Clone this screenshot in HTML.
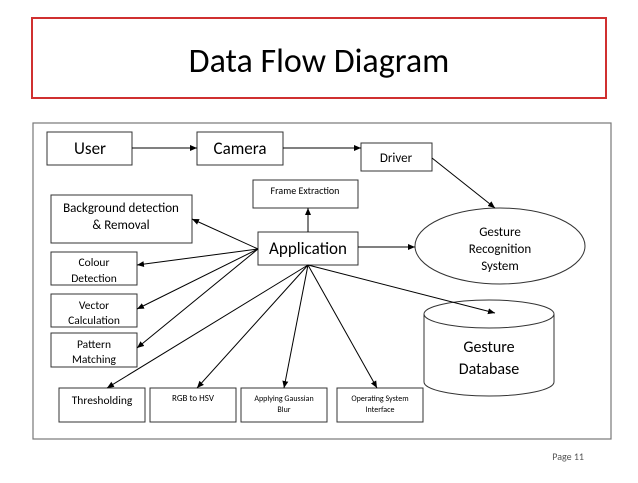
<!DOCTYPE html>
<html><head><style>
body{margin:0;width:638px;height:478px;background:#fff;overflow:hidden;font-family:"Liberation Sans",sans-serif}
</style></head><body>
<svg width="638" height="478" xmlns="http://www.w3.org/2000/svg" font-family="Carlito, 'Liberation Sans', sans-serif">
<defs><marker id="a" markerWidth="8" markerHeight="8" refX="7" refY="3" orient="auto" markerUnits="userSpaceOnUse"><path d="M0,0 L7,3 L0,6 z" fill="#000"/></marker></defs>
<rect x="32" y="18" width="574" height="80" fill="#fff" stroke="#d03030" stroke-width="2"/>
<text x="319" y="72" font-size="34" text-anchor="middle">Data Flow Diagram</text>
<rect x="33" y="123" width="578" height="316" fill="none" stroke="#777" stroke-width="1.2"/>
<g fill="#fff" stroke="#333" stroke-width="1">
<rect x="47" y="132" width="85" height="33"/>
<rect x="197" y="132" width="86" height="33"/>
<rect x="361" y="143" width="71" height="28"/>
<rect x="253" y="180" width="105" height="28"/>
<rect x="258" y="232" width="100" height="33"/>
<ellipse cx="500" cy="246" rx="85" ry="38"/>
<path d="M424,314 L424,382 A65,14 0 0 0 554,382 L554,314"/>
<ellipse cx="489" cy="314" rx="65" ry="14"/>
<rect x="51" y="195" width="141" height="48"/>
<rect x="51" y="252" width="86" height="33"/>
<rect x="51" y="294" width="86" height="33"/>
<rect x="51" y="333" width="86" height="34"/>
<rect x="59" y="388" width="86" height="34"/>
<rect x="150" y="388" width="86" height="34"/>
<rect x="241" y="388" width="86" height="34"/>
<rect x="337" y="388" width="86" height="34"/>
</g>
<g stroke="#000" stroke-width="1" marker-end="url(#a)">
<line x1="132" y1="148" x2="197" y2="148"/>
<line x1="283" y1="148" x2="361" y2="148"/>
<line x1="432" y1="158" x2="495" y2="208"/>
<line x1="308" y1="232" x2="308" y2="208"/>
<line x1="358" y1="247" x2="415" y2="247"/>
<line x1="308" y1="265" x2="495" y2="313"/>
<line x1="258" y1="249" x2="192" y2="219"/>
<line x1="258" y1="249" x2="137" y2="265"/>
<line x1="258" y1="249" x2="137" y2="309"/>
<line x1="258" y1="249" x2="137" y2="348"/>
<line x1="308" y1="265" x2="107" y2="388"/>
<line x1="308" y1="265" x2="197" y2="388"/>
<line x1="308" y1="265" x2="284" y2="388"/>
<line x1="308" y1="265" x2="377" y2="388"/>
</g>
<g text-anchor="middle" fill="#000">
<text x="90" y="154" font-size="17">User</text>
<text x="240" y="154" font-size="17">Camera</text>
<text x="396" y="162" font-size="13">Driver</text>
<text x="305" y="194" font-size="10">Frame Extraction</text>
<text x="308" y="254" font-size="17">Application</text>
<text x="500" y="236" font-size="13">Gesture</text>
<text x="500" y="253" font-size="13">Recognition</text>
<text x="500" y="270" font-size="13">System</text>
<text x="489" y="352" font-size="16">Gesture</text>
<text x="489" y="374" font-size="16">Database</text>
<text x="121" y="212" font-size="13">Background detection</text>
<text x="121" y="229" font-size="13">&amp; Removal</text>
<text x="94" y="266" font-size="11.5">Colour</text>
<text x="94" y="282" font-size="11.5">Detection</text>
<text x="94" y="309" font-size="11.5">Vector</text>
<text x="94" y="324" font-size="11.5">Calculation</text>
<text x="94" y="348" font-size="11.5">Pattern</text>
<text x="94" y="363" font-size="11.5">Matching</text>
<text x="102" y="404" font-size="11.5">Thresholding</text>
<text x="193" y="401" font-size="9">RGB to HSV</text>
<text x="284" y="401" font-size="8">Applying Gaussian</text>
<text x="284" y="412" font-size="8">Blur</text>
<text x="380" y="401" font-size="8">Operating System</text>
<text x="380" y="412" font-size="8">Interface</text>
</g>
<text x="584" y="460" font-size="10" fill="#555" text-anchor="end">Page 11</text>
</svg>
</body></html>
